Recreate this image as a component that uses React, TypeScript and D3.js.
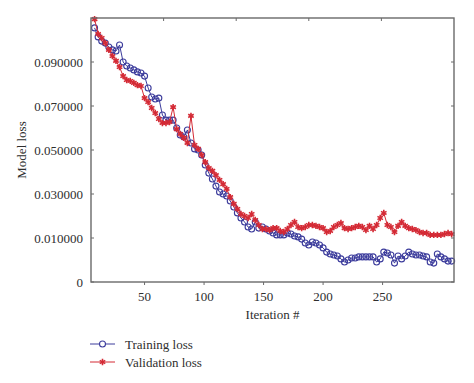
import React from "react";
import * as d3 from "d3";

const iterStart = 8;
const iterStep = 3;

const trainingLoss = [
  0.1155, 0.1114, 0.1095, 0.1086, 0.1068, 0.1055, 0.1050, 0.1077, 0.1000, 0.0982,
  0.0973, 0.0964, 0.0955, 0.0950, 0.0936, 0.0882, 0.0841, 0.0832, 0.0836, 0.0759,
  0.0736, 0.0736, 0.0736, 0.0700, 0.0668, 0.0659, 0.0691, 0.0632, 0.0605, 0.0600,
  0.0577, 0.0532, 0.0495, 0.0468, 0.0436, 0.0409, 0.0400, 0.0391, 0.0368, 0.0341,
  0.0314, 0.0291, 0.0273, 0.0250, 0.0241, 0.0273, 0.0245, 0.0250, 0.0241, 0.0232,
  0.0223, 0.0214, 0.0214, 0.0214, 0.0223, 0.0218, 0.0209, 0.0205, 0.0195, 0.0177,
  0.0168, 0.0182, 0.0177, 0.0168, 0.0155, 0.0136, 0.0127, 0.0123, 0.0118, 0.0105,
  0.0091, 0.0100, 0.0109, 0.0109, 0.0114, 0.0114, 0.0114, 0.0114, 0.0114, 0.0091,
  0.0105, 0.0136, 0.0132, 0.0123, 0.0086, 0.0118, 0.0105, 0.0118, 0.0136, 0.0127,
  0.0123, 0.0123, 0.0118, 0.0114, 0.0091, 0.0086, 0.0127, 0.0114, 0.0105, 0.0095,
  0.0095,
];

const validationLoss = [
  0.1195, 0.1127, 0.1109, 0.1086, 0.1055, 0.1027, 0.1005, 0.0977, 0.0936, 0.0918,
  0.0914, 0.0905, 0.0895, 0.0891, 0.0836, 0.0818, 0.0791, 0.0768, 0.0741, 0.0723,
  0.0723, 0.0727, 0.0795, 0.0695, 0.0673, 0.0655, 0.0632, 0.0755, 0.0623, 0.0605,
  0.0577, 0.0545, 0.0518, 0.0505, 0.0486, 0.0464, 0.0445, 0.0423, 0.0386, 0.0355,
  0.0332, 0.0309, 0.0300, 0.0291, 0.0309, 0.0282, 0.0259, 0.0241, 0.0241, 0.0236,
  0.0245, 0.0245, 0.0232, 0.0227, 0.0241, 0.0259, 0.0273, 0.0250, 0.0245, 0.0250,
  0.0259, 0.0259, 0.0255, 0.0250, 0.0245, 0.0227, 0.0232, 0.0250, 0.0259, 0.0268,
  0.0245, 0.0241, 0.0245, 0.0250, 0.0255, 0.0250, 0.0236, 0.0255, 0.0241, 0.0259,
  0.0291, 0.0314, 0.0259, 0.0250, 0.0227, 0.0255, 0.0273, 0.0255, 0.0245, 0.0241,
  0.0236, 0.0227, 0.0223, 0.0223, 0.0214, 0.0214, 0.0214, 0.0214, 0.0218, 0.0223,
  0.0218,
];

const xTicks = [50, 100, 150, 200, 250];
const xTopTicks = [66, 127, 188, 249];
const yTickValues = [0, 0.02, 0.04, 0.06, 0.08, 0.1];
const yTickLabels = ["0", "0.010000", "0.030000", "0.050000", "0.070000", "0.090000"];
const seriesNames = ["Training loss", "Validation loss"];

const W = 474;
const H = 383;
const M = { left: 91, right: 454, top: 18, bottom: 282 };
const FONT = "'Liberation Serif', 'DejaVu Serif', serif";
const BLUE = "#3c3c9c";
const RED = "#d42a35";
const AXIS = "#6a6a6a";
const TEXT = "#2e2e2e";

export default function App() {
  const x = d3.scaleLinear().domain([5, 310]).range([M.left, M.right]);
  const y = d3.scaleLinear().domain([0, 0.12]).range([M.bottom, M.top]);
  const iters = trainingLoss.map((_, i) => iterStart + i * iterStep);

  const line = d3
    .line<number>()
    .x((_, i) => x(iters[i]))
    .y((d) => y(d));

  const astType = (d3 as any).symbolAsterisk || d3.symbolCross;
  const ast = d3.symbol().type(astType).size(28)() as string;

  const trainPts = trainingLoss.map((d, i) => [x(iters[i]), y(d)]);
  const valPts = validationLoss.map((d, i) => [x(iters[i]), y(d)]);

  const legendY = [344, 362];
  return (
    <div style={{ position: "absolute", left: 0, top: 0 }}>
      <svg width={W} height={H} style={{ display: "block", background: "#fff" }}>
        <path d={line(trainingLoss) || ""} fill="none" stroke={BLUE} strokeWidth={1} />
        {trainPts.map(([px, py], i) => (
          <circle key={"t" + i} cx={px} cy={py} r={3} fill="none" stroke={BLUE} strokeWidth={1.1} />
        ))}
        <path d={line(validationLoss) || ""} fill="none" stroke={RED} strokeWidth={1} />
        {valPts.map(([px, py], i) => (
          <path key={"v" + i} d={ast} transform={`translate(${px},${py})`} fill="none" stroke={RED} strokeWidth={1.6} />
        ))}

        <rect
          x={M.left}
          y={M.top}
          width={M.right - M.left}
          height={M.bottom - M.top}
          fill="none"
          stroke={AXIS}
          strokeWidth={1.4}
        />
        {xTicks.map((t) => (
          <g key={"xt" + t}>
            <line x1={x(t)} x2={x(t)} y1={M.bottom} y2={M.bottom + 3} stroke={AXIS} strokeWidth={1} />
            <text x={x(t)} y={301} textAnchor="middle" fontFamily={FONT} fontSize={13} fill={TEXT}>
              {t}
            </text>
          </g>
        ))}
        {xTopTicks.map((t) => (
          <line key={"xtt" + t} x1={x(t)} x2={x(t)} y1={M.top} y2={M.top + 3} stroke={AXIS} strokeWidth={1} />
        ))}
        {yTickValues.map((v, i) => (
          <g key={"yt" + i}>
            <line x1={M.left} x2={M.left + 3} y1={y(v)} y2={y(v)} stroke={AXIS} strokeWidth={1} />
            <line x1={M.right - 3} x2={M.right} y1={y(v)} y2={y(v)} stroke={AXIS} strokeWidth={1} />
            <text
              x={83}
              y={y(v)}
              dy="0.35em"
              textAnchor="end"
              fontFamily={FONT}
              fontSize={13}
              fill={TEXT}
            >
              {yTickLabels[i]}
            </text>
          </g>
        ))}
        <text x={(M.left + M.right) / 2} y={319} textAnchor="middle" fontFamily={FONT} fontSize={13} fill={TEXT}>
          Iteration #
        </text>
        <text
          transform={`translate(26,${(M.top + M.bottom) / 2}) rotate(-90)`}
          textAnchor="middle"
          fontFamily={FONT}
          fontSize={13}
          fill={TEXT}
        >
          Model loss
        </text>

        <g>
          <line x1={90} x2={115} y1={legendY[0]} y2={legendY[0]} stroke={BLUE} strokeWidth={1} />
          <circle cx={102.5} cy={legendY[0]} r={3} fill="#fff" stroke={BLUE} strokeWidth={1.1} />
          <text x={125} y={legendY[0]} dy="0.35em" fontFamily={FONT} fontSize={13} fill={TEXT}>
            {seriesNames[0]}
          </text>
          <line x1={90} x2={115} y1={legendY[1]} y2={legendY[1]} stroke={RED} strokeWidth={1} />
          <path d={ast} transform={`translate(102.5,${legendY[1]})`} fill="none" stroke={RED} strokeWidth={1.6} />
          <text x={125} y={legendY[1]} dy="0.35em" fontFamily={FONT} fontSize={13} fill={TEXT}>
            {seriesNames[1]}
          </text>
        </g>
      </svg>
    </div>
  );
}
